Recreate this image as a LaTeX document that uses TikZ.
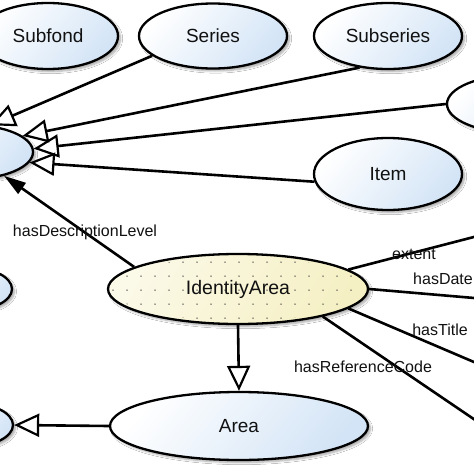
\documentclass[tikz,border=0pt]{standalone}
\usepackage{fontspec}
\setmainfont{Liberation Sans}
\usetikzlibrary{shapes.geometric,arrows.meta,shadows.blur}
\definecolor{bluefill}{HTML}{D3E4F6}
\definecolor{yelfill}{HTML}{F5F0C4}
\definecolor{inkc}{HTML}{111111}
\begin{document}
\begin{tikzpicture}[x=1pt,y=-1pt,
  cls/.style={ellipse, draw=black, line width=2.3pt, inner sep=0pt,
    font=\fontsize{19}{22}\selectfont, text=inkc,
    top color=white, bottom color=bluefill, shading angle=50,
    blur shadow={shadow xshift=2.5pt, shadow yshift=-2.5pt, shadow blur steps=6, shadow opacity=35}},
  idcls/.style={cls, top color=white!60!yelfill, bottom color=yelfill, shading angle=60},
  lbl/.style={font=\fontsize{16}{18}\selectfont, text=inkc, inner sep=0pt},
  bigtxt/.style={font=\fontsize{19.5}{22}\selectfont, text=inkc, inner sep=0pt},
  isa/.style={line width=2.6pt, -{Triangle[open, length=25pt, width=23pt, line width=2.2pt]}},
  rel/.style={line width=2.6pt, -{Triangle[length=22pt, width=13pt]}},
  prop/.style={line width=2.6pt},
  dotc/.style={fill=black!75}
]
\fill[white] (0,0) rectangle (474,474);
\useasboundingbox (0,0) rectangle (474,474);

% class ellipses
\node[cls, minimum width=140pt, minimum height=66pt] (subfond) at (48,36) {Subfond};
\node[cls, minimum width=148pt, minimum height=65pt] (series) at (213,36) {Series};
\node[cls, minimum width=148pt, minimum height=66pt] (subseries) at (388,36) {Subseries};
\node[cls, minimum width=140pt, minimum height=58pt] (rightE) at (517,104) {};
\node[cls, minimum width=148pt, minimum height=72pt] (item) at (388,174) {Item};
\node[cls, minimum width=126pt, minimum height=54pt] (leftE) at (-30,152) {};
\node[cls, minimum width=90pt, minimum height=44pt] (leftA) at (-33,289) {};
\node[cls, minimum width=90pt, minimum height=44pt] (leftB) at (-32,425) {};
\node[cls, minimum width=258pt, minimum height=68pt] (area) at (239,426) {Area};
\node[idcls, minimum width=260pt, minimum height=70pt] (identity) at (238,289) {};

% dotted texture of IdentityArea
\begin{scope}
  \clip (238,289) ellipse [x radius=126pt, y radius=32pt];
  \foreach \yy in {262,276,290,304,318} {
    \foreach \xx in {113,127,...,365} {
      \fill[dotc] (\xx,\yy) circle[radius=0.75pt];
    }
  }
\end{scope}
\node[bigtxt] (idtext) at (identity.center) {IdentityArea};

% inheritance arrows
\draw[isa] (series.198) -- (leftE.53);
\draw[isa] (subseries.228) -- (leftE.17);
\draw[isa] (rightE.west) -- (leftE.3);
\draw[isa] (item.186) -- (leftE.-10);
\draw[isa] (identity.south) -- (area.north);
\draw[isa] (area.west) -- (leftB.east);

% relation
\draw[rel] (identity.168) -- (leftE.-35);
\node[lbl] (lDesc) at (85,232) {hasDescriptionLevel};

% properties leaving to the right
\coordinate (pExtent) at (480,235.4);
\coordinate (pDate) at (480,298.5);
\coordinate (pTitle) at (480,364.6);
\coordinate (pRef) at (480,423.3);
\draw[prop] (identity.10) -- (pExtent);
\draw[prop] (identity.east) -- (pDate);
\draw[prop] (identity.-10) -- (pTitle);
\draw[prop] (identity.-18) -- (pRef);
\node[lbl] (lExtent) at (414,254) {extent};
\node[lbl, anchor=east] (lDate) at (473,279) {hasDate};
\node[lbl] (lTitle) at (440,330) {hasTitle};
\node[lbl] (lRef) at (363,367) {hasReferenceCode};
\end{tikzpicture}
\end{document}
